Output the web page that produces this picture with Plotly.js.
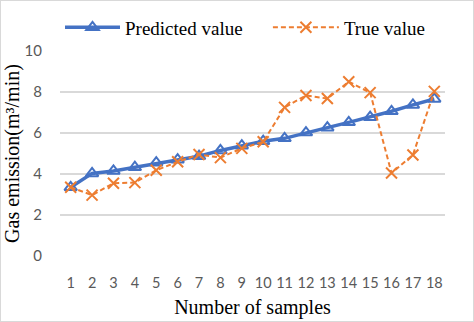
<!DOCTYPE html>
<html><head><meta charset="utf-8">
<script src="https://cdn.plot.ly/plotly-3.0.1.min.js"></script>
<style>html,body{margin:0;padding:0;background:#fff}#c{width:472px;height:320px;border:1px solid #d9d9d9}</style>
</head><body><div id="c"></div>
<script>
const categories = ["1","2","3","4","5","6","7","8","9","10","11","12","13","14","15","16","17","18"];
const predicted = [3.35,4.03,4.15,4.33,4.55,4.7,4.87,5.15,5.38,5.6,5.74,6.02,6.26,6.52,6.77,7.06,7.37,7.66];
const trueValue = [3.35,2.97,3.55,3.58,4.18,4.6,4.95,4.8,5.25,5.57,7.25,7.83,7.68,8.5,7.97,4.05,4.93,8.03];
const yTicks = [0,2,4,6,8,10];

const data = [
 {x:categories, y:predicted, type:'scatter', mode:'lines+markers', name:'Predicted value', legend:'legend',
  line:{color:'#4472C4', width:3.5},
  marker:{symbol:'triangle-up-open', size:11, color:'#4472C4', line:{width:2, color:'#4472C4'}}},
 {x:categories, y:trueValue, type:'scatter', mode:'lines+markers', name:'True value', legend:'legend2',
  line:{color:'#ED7D31', width:2, dash:'5px,3px'},
  marker:{symbol:'x-thin-open', size:11, color:'#ED7D31', line:{width:2, color:'#ED7D31'}}}
];
const legFont = {family:'Liberation Serif, Times New Roman, serif', size:19, color:'#000'};
const layout = {
 width:472, height:320,
 margin:{l:59, r:28, t:50, b:65, autoexpand:false},
 paper_bgcolor:'#fff', plot_bgcolor:'#fff',
 showlegend:true,
 legend:{orientation:'h', x:0.0, xanchor:'left', y:1.115, yanchor:'middle', itemwidth:55, font:legFont},
 legend2:{orientation:'h', x:0.54, xanchor:'left', y:1.115, yanchor:'middle', itemwidth:66, font:legFont},
 xaxis:{type:'category', range:[-0.5,17.5], tickvals:categories, ticktext:categories, showgrid:false, zeroline:false,
   showline:false, ticks:'', tickangle:0, automargin:false, ticklabelstandoff:16,
   tickfont:{family:'Lato, Calibri, sans-serif', size:14.5, color:'#595959'},
   title:{text:'Number of samples', font:{family:'Liberation Serif, Times New Roman, serif', size:20, color:'#000'}, standoff:10}},
 yaxis:{range:[0,10], tickvals:yTicks, showgrid:true, gridcolor:'#d9d9d9', gridwidth:1.3, zeroline:false,
   showline:false, ticks:'', automargin:false, ticklabelstandoff:17, tickfont:{family:'Lato, Calibri, sans-serif', size:15, color:'#595959'},
   title:{text:'Gas emission(m³/min)', font:{family:'Liberation Serif, Times New Roman, serif', size:20, color:'#000'}, standoff:6}}
};
Plotly.newPlot('c', data, layout, {displayModeBar:false, staticPlot:true});
</script></body></html>
